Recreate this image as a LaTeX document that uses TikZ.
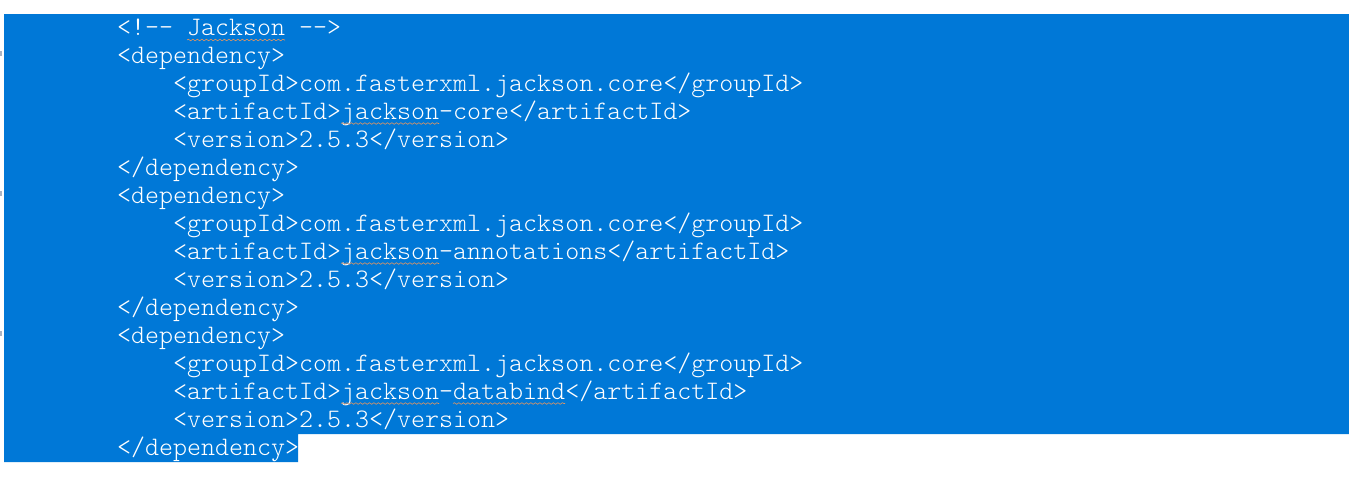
\documentclass[tikz,border=0pt]{standalone}
\usepackage{fontspec}
\newfontfamily\codefont{Latin Modern Mono Light}
\usetikzlibrary{decorations.pathmorphing}
\definecolor{selblue}{RGB}{0,120,215}
\definecolor{squig}{RGB}{230,150,95}
\definecolor{markgray}{RGB}{170,180,195}
\tikzset{
  codeline/.style={anchor=base west, inner sep=0pt, text=white, font=\codefont\fontsize{26.67}{28}\selectfont},
  spell/.style={draw=squig, line width=0.6pt, decorate, decoration={snake, amplitude=0.8pt, segment length=4.5pt}},
  edgemark/.style={fill=markgray, draw=none}
}
\begin{document}
\begin{tikzpicture}[x=1pt,y=-1pt]
\useasboundingbox (0,0) rectangle (1349,490);
\fill[white] (0,0) rectangle (1349,490);
% selection highlight
\fill[selblue] (4,14) -- (1349,14) -- (1349,434) -- (298,434) -- (298,462) -- (4,462) -- cycle;
% small marks at left edge
\fill[edgemark] (0,51) rectangle (1.5,56);
\fill[edgemark] (0,191) rectangle (1.5,196);
\fill[edgemark] (0,331) rectangle (1.5,336);
% code lines
\node[codeline] (l1)  at (117,35)  {<!-{}- Jackson -{}->};
\node[codeline] (l2)  at (117,63)  {<dependency>};
\node[codeline] (l3)  at (173,91)  {<groupId>com.fasterxml.jackson.core</groupId>};
\node[codeline] (l4)  at (173,119) {<artifactId>jackson-core</artifactId>};
\node[codeline] (l5)  at (173,147) {<version>2.5.3</version>};
\node[codeline] (l6)  at (117,175) {</dependency>};
\node[codeline] (l7)  at (117,203) {<dependency>};
\node[codeline] (l8)  at (173,231) {<groupId>com.fasterxml.jackson.core</groupId>};
\node[codeline] (l9)  at (173,259) {<artifactId>jackson-annotations</artifactId>};
\node[codeline] (l10) at (173,287) {<version>2.5.3</version>};
\node[codeline] (l11) at (117,315) {</dependency>};
\node[codeline] (l12) at (117,343) {<dependency>};
\node[codeline] (l13) at (173,371) {<groupId>com.fasterxml.jackson.core</groupId>};
\node[codeline] (l14) at (173,399) {<artifactId>jackson-databind</artifactId>};
\node[codeline] (l15) at (173,427) {<version>2.5.3</version>};
\node[codeline] (l16) at (117,455) {</dependency>};
% spell-check squiggles
\draw[spell] (187,40) -- (285,40);
\draw[spell] (341,123.5) -- (439,123.5);
\draw[spell] (341,263.5) -- (439,263.5);
\draw[spell] (341,403.5) -- (439,403.5);
\draw[spell] (453,403.5) -- (565,403.5);
\end{tikzpicture}
\end{document}
